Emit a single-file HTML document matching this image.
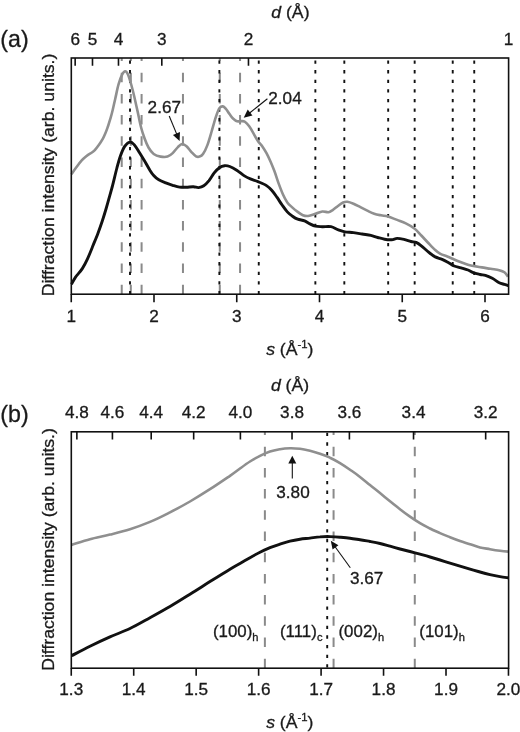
<!DOCTYPE html><html><head><meta charset="utf-8"><title>Diffraction intensity figure</title>
<style>html,body{margin:0;padding:0;background:#fff}svg{display:block}text{font-family:"Liberation Sans",Arial,sans-serif;fill:#1a1a1a;stroke:#1a1a1a;stroke-width:0.3px}</style></head><body>
<svg width="520" height="732" viewBox="0 0 520 732">
<rect width="520" height="732" fill="#fff"/>
<line x1="121.73" y1="294.20" x2="121.73" y2="58.00" stroke="#8a8a8a" stroke-width="2" stroke-dasharray="9.5 11.7"/>
<line x1="130.83" y1="294.20" x2="130.83" y2="58.00" stroke="#8a8a8a" stroke-width="2" stroke-dasharray="9.5 11.7"/>
<line x1="141.59" y1="294.20" x2="141.59" y2="58.00" stroke="#8a8a8a" stroke-width="2" stroke-dasharray="9.5 11.7"/>
<line x1="182.96" y1="294.20" x2="182.96" y2="58.00" stroke="#8a8a8a" stroke-width="2" stroke-dasharray="9.5 11.7"/>
<line x1="219.79" y1="294.20" x2="219.79" y2="58.00" stroke="#8a8a8a" stroke-width="2" stroke-dasharray="9.5 11.7"/>
<line x1="240.06" y1="294.20" x2="240.06" y2="58.00" stroke="#8a8a8a" stroke-width="2" stroke-dasharray="9.5 11.7"/>
<line x1="130.00" y1="294.20" x2="130.00" y2="58.00" stroke="#111" stroke-width="1.9" stroke-dasharray="3.3 6.30"/>
<line x1="219.37" y1="294.20" x2="219.37" y2="58.00" stroke="#111" stroke-width="1.9" stroke-dasharray="3.3 6.30"/>
<line x1="258.76" y1="294.20" x2="258.76" y2="58.00" stroke="#111" stroke-width="1.9" stroke-dasharray="3.3 6.30"/>
<line x1="315.36" y1="294.20" x2="315.36" y2="58.00" stroke="#111" stroke-width="1.9" stroke-dasharray="3.3 6.30"/>
<line x1="344.32" y1="294.20" x2="344.32" y2="58.00" stroke="#111" stroke-width="1.9" stroke-dasharray="3.3 6.30"/>
<line x1="388.18" y1="294.20" x2="388.18" y2="58.00" stroke="#111" stroke-width="1.9" stroke-dasharray="3.3 6.30"/>
<line x1="414.66" y1="294.20" x2="414.66" y2="58.00" stroke="#111" stroke-width="1.9" stroke-dasharray="3.3 6.30"/>
<line x1="452.73" y1="294.20" x2="452.73" y2="58.00" stroke="#111" stroke-width="1.9" stroke-dasharray="3.3 6.30"/>
<line x1="474.24" y1="294.20" x2="474.24" y2="58.00" stroke="#111" stroke-width="1.9" stroke-dasharray="3.3 6.30"/>
<path d="M71.5 174.2C72.2 173.2 74.1 170.4 75.8 168.1C77.5 165.8 79.6 162.7 81.5 160.6C83.4 158.5 85.6 156.8 87.3 155.4C89.0 154.1 90.7 153.4 91.9 152.5C93.2 151.6 93.7 151.4 94.8 150.2C95.9 148.9 97.4 146.9 98.8 145.0C100.2 143.1 101.7 140.7 102.9 138.6C104.1 136.5 104.9 134.4 105.8 132.3C106.7 130.2 107.3 128.3 108.1 126.0C108.9 123.7 109.6 121.3 110.4 118.6C111.2 115.9 111.9 113.3 112.7 110.0C113.5 106.7 114.2 103.3 115.2 99.0C116.2 94.7 117.4 88.2 118.6 84.2C119.8 80.2 121.0 76.9 122.1 74.7C123.2 72.5 124.2 71.2 125.2 71.2C126.2 71.2 127.0 72.2 128.1 74.7C129.2 77.2 130.6 82.4 131.6 86.0C132.6 89.6 133.2 92.0 134.2 96.3C135.2 100.6 136.5 106.7 137.7 111.9C138.8 117.1 139.9 123.1 141.1 127.5C142.2 131.9 143.4 135.2 144.6 138.5C145.8 141.8 147.0 144.9 148.5 147.5C150.0 150.1 151.7 152.5 153.7 154.0C155.7 155.5 158.3 156.2 160.6 156.6C162.9 157.0 165.5 157.2 167.5 156.6C169.5 156.0 171.0 154.7 172.7 153.1C174.4 151.5 176.3 148.6 177.9 147.1C179.5 145.6 180.8 144.2 182.2 144.0C183.6 143.8 184.9 144.8 186.5 146.2C188.1 147.6 190.1 150.6 191.7 152.3C193.3 154.0 194.7 155.6 196.0 156.3C197.3 157.0 198.3 157.0 199.5 156.6C200.7 156.2 201.7 155.9 203.0 154.0C204.3 152.1 205.9 149.2 207.3 145.4C208.7 141.7 210.2 136.3 211.6 131.5C213.0 126.7 214.6 120.7 215.9 116.8C217.2 112.9 218.2 109.9 219.4 108.2C220.6 106.5 221.8 106.3 222.9 106.4C224.0 106.5 224.9 107.7 226.0 109.0C227.1 110.3 228.3 112.4 229.5 114.0C230.7 115.6 231.7 117.3 233.0 118.5C234.3 119.7 235.7 120.9 237.1 121.3C238.5 121.7 240.1 121.0 241.4 121.1C242.7 121.2 243.6 120.9 244.9 121.8C246.2 122.7 247.8 124.4 249.2 126.3C250.6 128.2 252.1 130.9 253.5 133.3C254.9 135.8 256.4 138.8 257.9 141.0C259.3 143.2 260.8 144.2 262.2 146.2C263.6 148.2 265.1 150.6 266.5 153.2C267.9 155.8 269.2 158.6 270.5 161.5C271.8 164.4 272.9 167.2 274.3 170.8C275.7 174.5 277.2 179.4 278.6 183.4C280.1 187.4 281.6 191.4 283.0 194.6C284.4 197.8 285.7 200.2 287.3 202.4C288.9 204.6 290.8 206.0 292.5 207.6C294.2 209.2 296.0 210.6 297.7 211.9C299.4 213.2 301.2 214.5 302.9 215.2C304.6 215.9 306.0 216.2 308.1 216.0C310.2 215.8 313.0 214.6 315.4 213.8C317.8 213.1 320.1 211.8 322.3 211.5C324.5 211.2 326.7 212.4 328.4 212.2C330.1 212.0 331.1 211.1 332.7 210.1C334.3 209.1 336.2 207.3 337.9 206.0C339.6 204.7 341.5 203.2 343.1 202.5C344.7 201.8 345.7 201.6 347.4 201.8C349.1 202.0 351.3 202.8 353.5 203.7C355.7 204.6 358.1 206.0 360.4 207.2C362.7 208.4 365.0 209.6 367.3 210.7C369.6 211.8 371.9 213.0 374.2 213.8C376.5 214.6 378.8 214.9 381.1 215.3C383.4 215.8 385.3 215.7 388.0 216.5C390.7 217.3 394.1 218.8 397.1 219.9C400.1 221.1 402.9 222.0 405.8 223.4C408.7 224.8 411.8 226.5 414.4 228.5C417.0 230.5 419.0 233.1 421.3 235.5C423.6 237.9 426.0 240.6 428.3 243.0C430.6 245.4 433.2 248.2 435.2 250.0C437.2 251.8 438.4 252.8 440.4 253.9C442.4 255.0 445.0 255.6 447.3 256.5C449.6 257.4 451.9 258.5 454.2 259.5C456.5 260.5 458.8 261.4 461.1 262.3C463.4 263.2 466.0 264.2 468.0 264.8C470.0 265.4 471.0 265.5 473.3 265.9C475.6 266.3 479.0 266.9 481.9 267.4C484.8 267.9 487.7 268.3 490.6 268.8C493.5 269.3 496.9 269.6 499.2 270.2C501.5 270.8 502.9 271.2 504.4 272.3C505.8 273.4 507.3 275.9 507.9 276.6" fill="none" stroke="#8f8f8f" stroke-width="2.6" stroke-linejoin="round" stroke-linecap="butt"/>
<path d="M71.5 284.3C72.2 283.1 73.6 279.9 75.4 277.3C77.2 274.7 80.3 271.7 82.3 268.6C84.3 265.5 85.8 262.6 87.5 258.9C89.2 255.2 91.0 250.6 92.7 246.3C94.4 242.1 96.3 237.6 97.9 233.4C99.5 229.2 100.9 225.1 102.2 221.2C103.5 217.3 104.7 213.4 105.7 210.0C106.7 206.6 107.2 205.0 108.3 200.9C109.4 196.8 111.2 190.9 112.6 185.4C114.0 179.9 115.6 172.9 116.9 168.0C118.2 163.1 119.1 159.6 120.4 156.0C121.7 152.4 123.1 148.7 124.7 146.4C126.3 144.1 128.3 142.4 129.9 142.1C131.5 141.8 132.6 143.0 134.2 144.7C135.8 146.4 137.7 149.8 139.4 152.5C141.1 155.2 142.9 158.2 144.6 161.0C146.3 163.8 148.0 167.2 149.5 169.6C151.0 172.0 152.1 173.8 153.7 175.5C155.2 177.2 156.8 178.6 158.8 179.8C160.8 181.0 163.5 182.0 165.8 182.9C168.1 183.8 170.4 184.6 172.7 185.3C175.0 186.0 177.3 186.8 179.6 187.1C181.9 187.4 184.2 187.3 186.5 187.2C188.8 187.1 191.4 186.6 193.4 186.7C195.4 186.8 196.9 187.8 198.6 187.6C200.3 187.4 202.1 187.0 203.8 185.8C205.5 184.7 207.3 182.8 209.0 180.7C210.7 178.5 212.5 175.1 214.2 172.9C215.9 170.7 217.7 168.9 219.4 167.7C221.1 166.5 222.9 165.9 224.6 165.7C226.3 165.5 227.7 165.7 229.8 166.5C231.9 167.3 234.7 168.9 237.1 170.4C239.5 171.9 241.7 174.1 244.0 175.6C246.3 177.1 248.7 178.2 251.0 179.2C253.3 180.2 255.3 180.5 257.9 181.6C260.5 182.7 264.2 184.1 266.5 185.6C268.8 187.1 270.0 188.4 271.7 190.3C273.4 192.2 275.2 194.8 276.9 197.2C278.6 199.6 280.4 202.6 282.1 205.0C283.8 207.4 285.6 210.0 287.3 211.9C289.0 213.8 290.8 215.0 292.5 216.2C294.2 217.4 295.7 218.4 297.7 219.2C299.7 220.0 302.6 220.1 304.6 220.9C306.7 221.7 308.2 223.0 310.0 223.9C311.8 224.8 313.3 225.7 315.4 226.2C317.4 226.7 319.7 226.6 322.3 226.7C324.9 226.8 328.4 226.2 331.0 226.7C333.6 227.2 335.6 228.8 337.9 229.7C340.2 230.5 342.2 231.3 344.8 231.8C347.4 232.3 350.6 232.2 353.5 232.6C356.4 233.0 359.2 233.5 362.1 234.0C365.0 234.5 368.2 234.8 370.8 235.4C373.4 236.0 375.4 236.9 377.7 237.5C380.0 238.1 382.3 238.8 384.6 239.2C386.9 239.6 389.6 239.8 391.7 239.7C393.8 239.6 395.1 238.4 397.1 238.4C399.2 238.4 401.7 238.9 404.0 239.4C406.3 239.9 409.0 241.0 411.0 241.5C413.0 242.0 414.4 241.7 416.1 242.4C417.8 243.1 419.3 244.2 421.3 245.8C423.3 247.4 426.0 250.1 428.3 251.9C430.6 253.8 432.9 255.7 435.2 256.9C437.5 258.1 439.8 258.3 442.1 259.3C444.4 260.3 447.0 261.9 449.0 263.0C451.0 264.1 452.2 265.2 454.2 266.0C456.2 266.8 458.8 267.1 461.1 267.8C463.4 268.5 466.0 269.2 468.0 270.0C470.0 270.8 471.3 271.9 473.3 272.6C475.3 273.4 478.2 274.0 480.2 274.5C482.2 275.0 483.4 274.8 485.4 275.4C487.4 276.0 490.0 277.1 492.3 278.3C494.6 279.5 497.2 281.7 499.2 282.7C501.2 283.7 502.8 283.9 504.4 284.4C506.0 284.9 508.0 285.6 508.7 285.8" fill="none" stroke="#111" stroke-width="2.9" stroke-linejoin="round" stroke-linecap="butt"/>
<rect x="71.30" y="58.00" width="437.30" height="236.20" fill="none" stroke="#111" stroke-width="1.6"/>
<path d="M75.16 58.00v7.8M92.49 58.00v7.8M118.48 58.00v7.8M161.81 58.00v7.8M248.47 58.00v7.8M71.25 294.20v8M154.00 294.20v8M236.75 294.20v8M319.50 294.20v8M402.25 294.20v8M485.00 294.20v8" stroke="#111" stroke-width="1.6" fill="none"/>
<text transform="translate(75.16 44.60) scale(1.06 1)" font-size="16.2" text-anchor="middle">6</text>
<text transform="translate(92.49 44.60) scale(1.06 1)" font-size="16.2" text-anchor="middle">5</text>
<text transform="translate(118.48 44.60) scale(1.06 1)" font-size="16.2" text-anchor="middle">4</text>
<text transform="translate(161.81 44.60) scale(1.06 1)" font-size="16.2" text-anchor="middle">3</text>
<text transform="translate(248.47 44.60) scale(1.06 1)" font-size="16.2" text-anchor="middle">2</text>
<text transform="translate(508.43 44.60) scale(1.06 1)" font-size="16.2" text-anchor="middle">1</text>
<text transform="translate(71.25 321.50) scale(1.06 1)" font-size="16.2" text-anchor="middle">1</text>
<text transform="translate(154.00 321.50) scale(1.06 1)" font-size="16.2" text-anchor="middle">2</text>
<text transform="translate(236.75 321.50) scale(1.06 1)" font-size="16.2" text-anchor="middle">3</text>
<text transform="translate(319.50 321.50) scale(1.06 1)" font-size="16.2" text-anchor="middle">4</text>
<text transform="translate(402.25 321.50) scale(1.06 1)" font-size="16.2" text-anchor="middle">5</text>
<text transform="translate(485.00 321.50) scale(1.06 1)" font-size="16.2" text-anchor="middle">6</text>
<text transform="translate(0.30 46.60)" font-size="23.2" text-anchor="start">(a)</text>
<text transform="translate(290.40 17.50) scale(1.05 1)" font-size="16.8" text-anchor="middle"><tspan font-style="italic">d</tspan> (Å)</text>
<text transform="translate(289.80 354.50) scale(1.05 1)" font-size="16.8" text-anchor="middle"><tspan font-style="italic">s</tspan> (Å<tspan font-size="10.8" dy="-6.2">-1</tspan><tspan dy="6.2">)</tspan></text>
<text transform="translate(53.70 175.00) rotate(-90) scale(1.05 1)" font-size="16.8" text-anchor="middle">Diffraction intensity (arb. units.)</text>
<text transform="translate(147.60 112.50) scale(1.06 1)" font-size="16.2" text-anchor="start">2.67</text>
<text transform="translate(268.30 103.50) scale(1.06 1)" font-size="16.2" text-anchor="start">2.04</text>
<line x1="169.20" y1="116.00" x2="176.83" y2="134.35" stroke="#111" stroke-width="1.1"/>
<polygon points="179.60,141.00 172.94,134.89 179.96,131.97" fill="#111"/>
<line x1="267.40" y1="98.70" x2="249.32" y2="113.20" stroke="#111" stroke-width="1.1"/>
<polygon points="243.70,117.70 247.72,109.61 252.47,115.54" fill="#111"/>
<line x1="264.88" y1="668.20" x2="264.88" y2="431.80" stroke="#8a8a8a" stroke-width="2" stroke-dasharray="9.5 11.7"/>
<line x1="333.58" y1="668.20" x2="333.58" y2="431.80" stroke="#8a8a8a" stroke-width="2" stroke-dasharray="9.5 11.7"/>
<line x1="414.78" y1="668.20" x2="414.78" y2="431.80" stroke="#8a8a8a" stroke-width="2" stroke-dasharray="9.5 11.7"/>
<line x1="327.21" y1="667.60" x2="327.21" y2="431.80" stroke="#111" stroke-width="1.9" stroke-dasharray="3.3 6.35"/>
<path d="M71.5 544.9C74.6 544.0 83.6 540.9 90.0 539.2C96.4 537.5 103.3 536.3 110.0 534.6C116.7 532.9 123.3 531.3 130.0 529.2C136.7 527.1 143.3 524.7 150.0 521.9C156.7 519.1 163.3 515.7 170.0 512.3C176.7 508.9 183.3 505.4 190.0 501.5C196.7 497.6 203.3 493.5 210.0 489.2C216.7 484.9 225.0 479.2 230.0 475.8C235.0 472.4 236.7 470.9 240.0 468.5C243.3 466.1 246.7 463.6 250.0 461.5C253.3 459.4 256.7 457.5 260.0 455.8C263.3 454.1 266.7 452.6 270.0 451.5C273.3 450.4 276.7 449.8 280.0 449.2C283.3 448.6 286.7 448.3 290.0 448.2C293.3 448.1 296.7 448.4 300.0 448.8C303.3 449.2 306.7 450.0 310.0 450.8C313.3 451.6 316.7 452.7 320.0 453.8C323.3 454.9 326.7 456.1 330.0 457.7C333.3 459.2 336.7 461.1 340.0 463.1C343.3 465.1 346.7 467.4 350.0 469.7C353.3 472.0 356.7 474.3 360.0 476.9C363.3 479.5 366.7 482.4 370.0 485.1C373.3 487.8 376.7 490.4 380.0 493.1C383.3 495.8 386.7 498.6 390.0 501.3C393.3 504.0 396.7 506.6 400.0 509.2C403.3 511.8 406.7 514.3 410.0 516.6C413.3 518.9 416.7 521.1 420.0 523.1C423.3 525.1 426.7 526.8 430.0 528.5C433.3 530.2 436.7 531.6 440.0 533.1C443.3 534.6 446.7 535.9 450.0 537.2C453.3 538.5 456.7 539.8 460.0 541.0C463.3 542.2 466.7 543.1 470.0 544.2C473.3 545.3 476.7 546.6 480.0 547.4C483.3 548.2 486.7 548.6 490.0 549.2C493.3 549.8 496.9 550.4 500.0 550.8C503.1 551.2 507.1 551.5 508.5 551.6" fill="none" stroke="#8f8f8f" stroke-width="2.6" stroke-linejoin="round"/>
<path d="M71.5 655.8C74.6 654.2 83.6 649.4 90.0 646.2C96.4 643.1 103.3 639.9 110.0 636.9C116.7 633.9 123.3 631.7 130.0 628.5C136.7 625.3 143.3 621.4 150.0 617.7C156.7 614.0 163.3 610.4 170.0 606.5C176.7 602.6 183.3 598.4 190.0 594.2C196.7 590.1 203.3 585.8 210.0 581.6C216.7 577.4 225.0 572.2 230.0 569.2C235.0 566.2 236.7 565.4 240.0 563.5C243.3 561.6 246.7 559.6 250.0 557.7C253.3 555.8 256.7 554.0 260.0 552.3C263.3 550.6 266.7 549.1 270.0 547.7C273.3 546.4 276.7 545.3 280.0 544.2C283.3 543.1 286.7 541.9 290.0 541.1C293.3 540.3 296.7 539.7 300.0 539.2C303.3 538.7 306.7 538.5 310.0 538.1C313.3 537.7 316.7 537.1 320.0 536.9C323.3 536.6 326.7 536.5 330.0 536.6C333.3 536.7 336.7 536.9 340.0 537.2C343.3 537.5 346.7 537.8 350.0 538.2C353.3 538.6 356.7 539.2 360.0 539.7C363.3 540.2 366.7 540.9 370.0 541.5C373.3 542.1 376.7 542.7 380.0 543.5C383.3 544.3 386.7 545.3 390.0 546.2C393.3 547.1 396.7 548.1 400.0 549.0C403.3 549.9 406.7 550.6 410.0 551.5C413.3 552.4 416.7 553.3 420.0 554.2C423.3 555.1 426.7 556.0 430.0 557.0C433.3 558.0 436.7 559.0 440.0 560.0C443.3 561.0 446.7 562.1 450.0 563.1C453.3 564.1 456.7 565.2 460.0 566.2C463.3 567.2 466.7 568.2 470.0 569.2C473.3 570.2 476.7 571.1 480.0 572.0C483.3 572.9 486.7 573.8 490.0 574.6C493.3 575.4 496.9 576.1 500.0 576.6C503.1 577.1 507.1 577.6 508.5 577.8" fill="none" stroke="#111" stroke-width="2.9" stroke-linejoin="round"/>
<rect x="71.30" y="431.80" width="437.30" height="236.40" fill="none" stroke="#111" stroke-width="1.6"/>
<path d="M76.87 431.80v7.8M112.42 431.80v7.8M151.20 431.80v7.8M193.67 431.80v7.8M240.39 431.80v7.8M292.03 431.80v7.8M349.40 431.80v7.8M413.53 431.80v7.8M485.67 431.80v7.8M71.25 668.20v7.6M133.71 668.20v7.6M196.17 668.20v7.6M258.63 668.20v7.6M321.09 668.20v7.6M383.55 668.20v7.6M446.01 668.20v7.6M508.47 668.20v7.6" stroke="#111" stroke-width="1.6" fill="none"/>
<text transform="translate(76.87 418.10) scale(1.06 1)" font-size="16.2" text-anchor="middle">4.8</text>
<text transform="translate(112.42 418.10) scale(1.06 1)" font-size="16.2" text-anchor="middle">4.6</text>
<text transform="translate(151.20 418.10) scale(1.06 1)" font-size="16.2" text-anchor="middle">4.4</text>
<text transform="translate(193.67 418.10) scale(1.06 1)" font-size="16.2" text-anchor="middle">4.2</text>
<text transform="translate(240.39 418.10) scale(1.06 1)" font-size="16.2" text-anchor="middle">4.0</text>
<text transform="translate(292.03 418.10) scale(1.06 1)" font-size="16.2" text-anchor="middle">3.8</text>
<text transform="translate(349.40 418.10) scale(1.06 1)" font-size="16.2" text-anchor="middle">3.6</text>
<text transform="translate(413.53 418.10) scale(1.06 1)" font-size="16.2" text-anchor="middle">3.4</text>
<text transform="translate(485.67 418.10) scale(1.06 1)" font-size="16.2" text-anchor="middle">3.2</text>
<text transform="translate(71.25 694.90) scale(1.06 1)" font-size="16.2" text-anchor="middle">1.3</text>
<text transform="translate(133.71 694.90) scale(1.06 1)" font-size="16.2" text-anchor="middle">1.4</text>
<text transform="translate(196.17 694.90) scale(1.06 1)" font-size="16.2" text-anchor="middle">1.5</text>
<text transform="translate(258.63 694.90) scale(1.06 1)" font-size="16.2" text-anchor="middle">1.6</text>
<text transform="translate(321.09 694.90) scale(1.06 1)" font-size="16.2" text-anchor="middle">1.7</text>
<text transform="translate(383.55 694.90) scale(1.06 1)" font-size="16.2" text-anchor="middle">1.8</text>
<text transform="translate(446.01 694.90) scale(1.06 1)" font-size="16.2" text-anchor="middle">1.9</text>
<text transform="translate(508.47 694.90) scale(1.06 1)" font-size="16.2" text-anchor="middle">2.0</text>
<text transform="translate(0.30 422.30)" font-size="23.2" text-anchor="start">(b)</text>
<text transform="translate(290.00 391.30) scale(1.05 1)" font-size="16.8" text-anchor="middle"><tspan font-style="italic">d</tspan> (Å)</text>
<text transform="translate(289.80 727.60) scale(1.05 1)" font-size="16.8" text-anchor="middle"><tspan font-style="italic">s</tspan> (Å<tspan font-size="10.8" dy="-6.2">-1</tspan><tspan dy="6.2">)</tspan></text>
<text transform="translate(53.70 549.50) rotate(-90) scale(1.05 1)" font-size="16.8" text-anchor="middle">Diffraction intensity (arb. units.)</text>
<text transform="translate(276.30 497.70) scale(1.06 1)" font-size="16.2" text-anchor="start">3.80</text>
<text transform="translate(350.00 583.70) scale(1.06 1)" font-size="16.2" text-anchor="start">3.67</text>
<line x1="292.30" y1="478.50" x2="292.30" y2="462.40" stroke="#111" stroke-width="1.1"/>
<polygon points="292.30,455.80 296.30,463.40 288.30,463.40" fill="#111"/>
<line x1="350.30" y1="567.70" x2="334.91" y2="546.47" stroke="#111" stroke-width="1.1"/>
<polygon points="330.80,540.80 338.41,545.16 332.58,549.39" fill="#111"/>
<text transform="translate(212.90 637.00) scale(1.03 1)" font-size="16.4" text-anchor="start">(100)<tspan font-size="10.8" dy="3.5">h</tspan></text>
<text transform="translate(280.00 637.00) scale(1.03 1)" font-size="16.4" text-anchor="start">(111)<tspan font-size="10.8" dy="3.5">c</tspan></text>
<text transform="translate(338.50 637.00) scale(1.03 1)" font-size="16.4" text-anchor="start">(002)<tspan font-size="10.8" dy="3.5">h</tspan></text>
<text transform="translate(419.30 637.00) scale(1.03 1)" font-size="16.4" text-anchor="start">(101)<tspan font-size="10.8" dy="3.5">h</tspan></text>
</svg></body></html>
